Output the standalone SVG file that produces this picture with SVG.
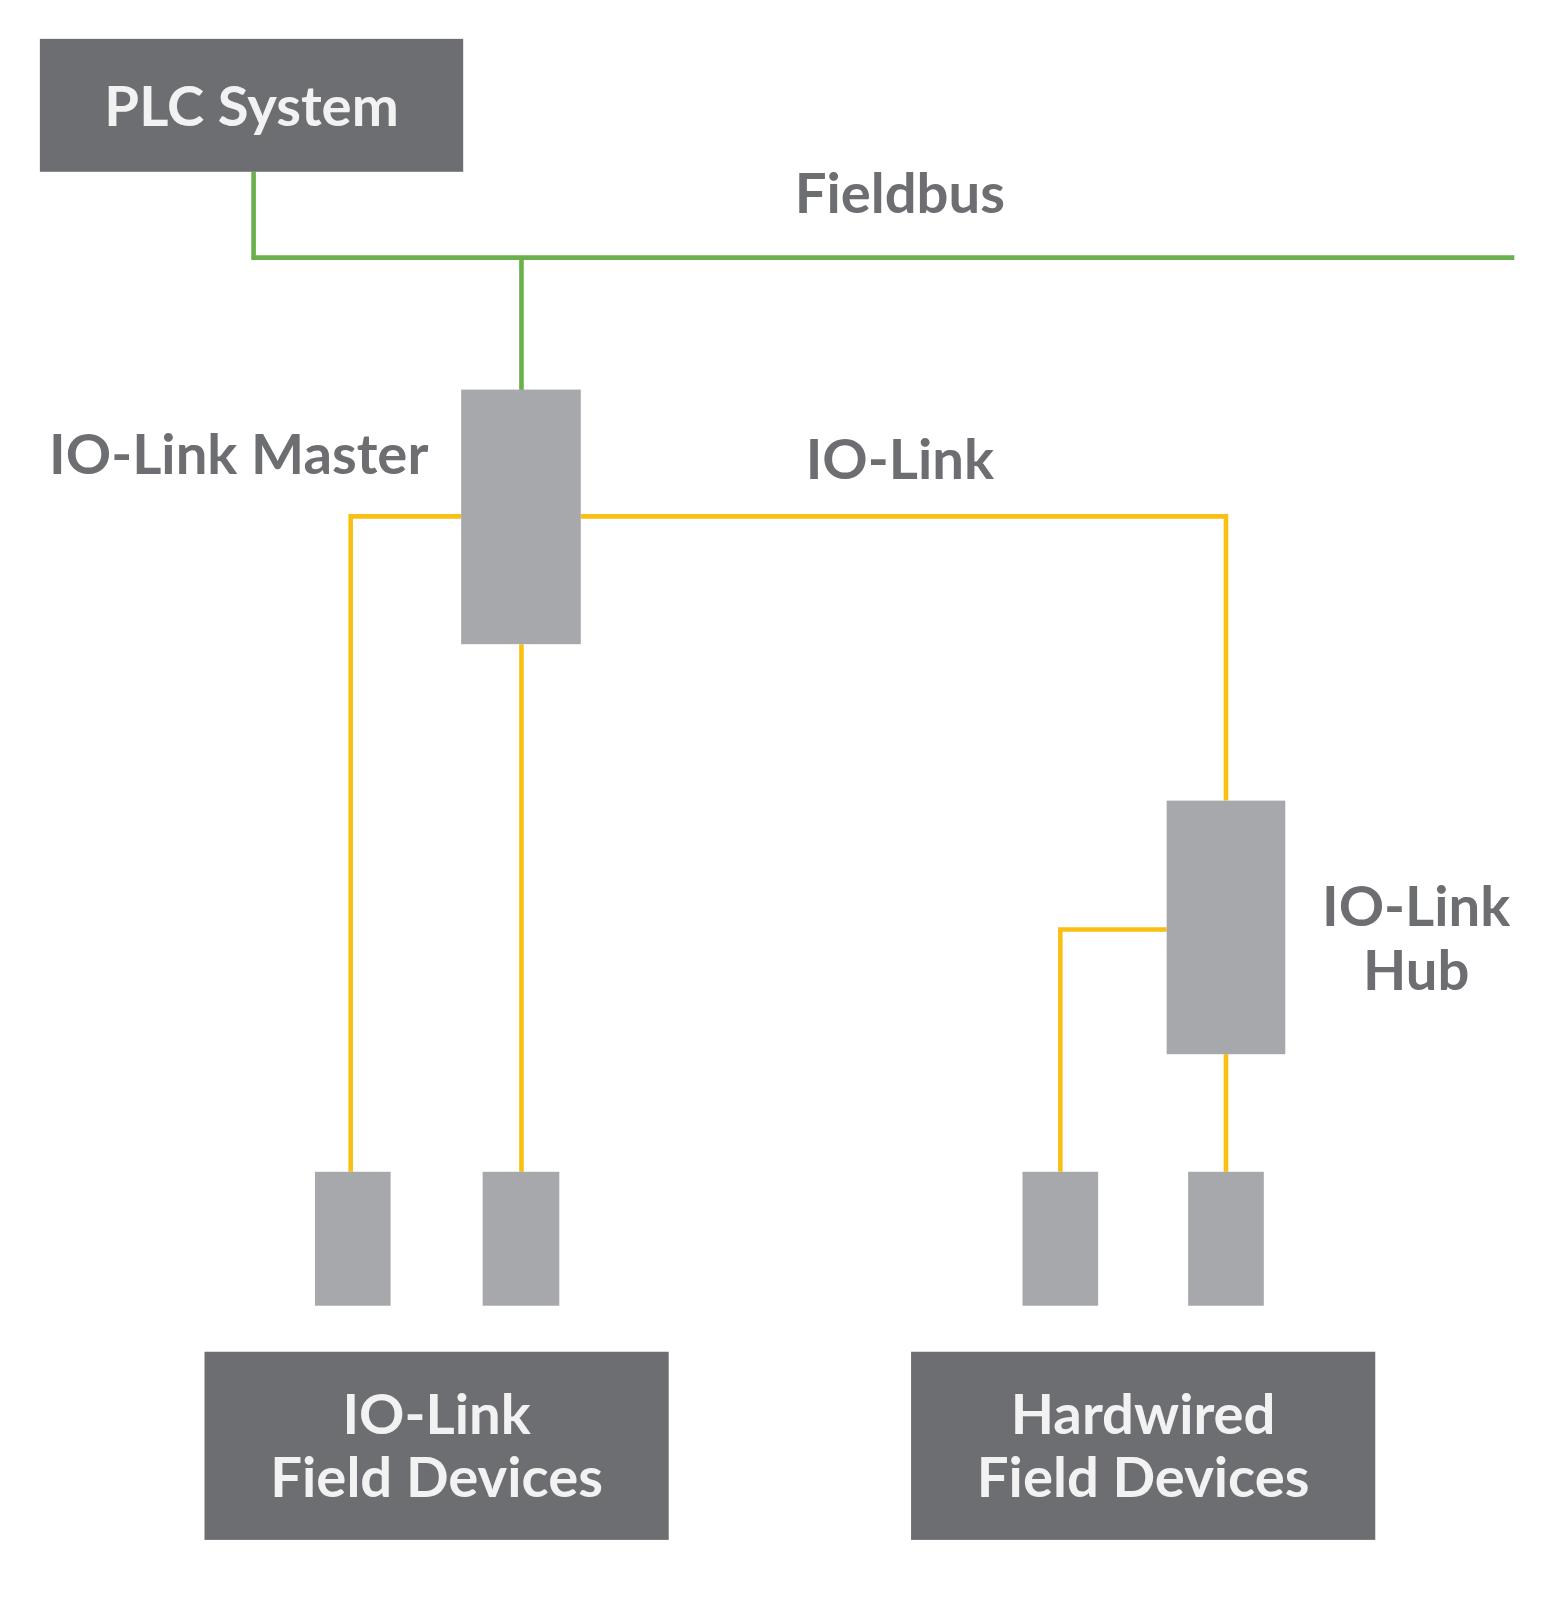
<svg xmlns="http://www.w3.org/2000/svg" width="1553" height="1600" viewBox="0 0 1553 1600">
<style>
.dark{fill:#6d6e71}
.light{fill:#a7a8ab}
.g{stroke:#6ab04c;stroke-width:4.5;fill:none}
.y{stroke:#f9c013;stroke-width:4.5;fill:none}
text{font-family:Lato,"Open Sans",sans-serif;font-weight:bold;font-size:55px}
.lbl{fill:#6d6e71}
.wt{fill:#f2f2f2;text-anchor:middle}
</style>
<rect width="1553" height="1600" fill="#fff"/>
<g transform="scale(1.0225)">
<g id="connectors">
<polyline class="g" points="248,168 248,252 1481,252"/>
<polyline class="g" points="510,252 510,382"/>
<polyline class="y" points="451,505 343,505 343,1146"/>
<polyline class="y" points="568,505 1199,505 1199,783"/>
<polyline class="y" points="510,630 510,1146"/>
<polyline class="y" points="1141,909 1037,909 1037,1146"/>
<polyline class="y" points="1199,1031 1199,1146"/>
</g>
<g id="plc"><rect class="dark" x="39" y="38" width="414" height="130"/><text class="wt" x="246" y="123">PLC System</text></g>
<g id="fieldbus-label"><text class="lbl" x="880" y="208" text-anchor="middle">Fieldbus</text></g>
<g id="master"><rect class="light" x="451" y="381" width="117" height="249"/><text class="lbl" x="48" y="464" font-size="53">IO-Link Master</text></g>
<g id="iolink-label"><text class="lbl" x="880" y="468" text-anchor="middle">IO-Link</text></g>
<g id="hub"><rect class="light" x="1141" y="783" width="116" height="248"/><text class="lbl" x="1385" y="906" text-anchor="middle">IO-Link</text><text class="lbl" x="1385" y="968" text-anchor="middle">Hub</text></g>
<g id="dev1"><rect class="light" x="308" y="1146" width="74" height="131"/></g>
<g id="dev2"><rect class="light" x="472" y="1146" width="75" height="131"/></g>
<g id="dev3"><rect class="light" x="1000" y="1146" width="74" height="131"/></g>
<g id="dev4"><rect class="light" x="1162" y="1146" width="74" height="131"/></g>
<g id="iolink-devices"><rect class="dark" x="200" y="1322" width="454" height="184"/><text class="wt" x="427" y="1402">IO-Link</text><text class="wt" x="427" y="1464">Field Devices</text></g>
<g id="hardwired-devices"><rect class="dark" x="891" y="1322" width="454" height="184"/><text class="wt" x="1118" y="1402">Hardwired</text><text class="wt" x="1118" y="1464">Field Devices</text></g>
</g>
</svg>
